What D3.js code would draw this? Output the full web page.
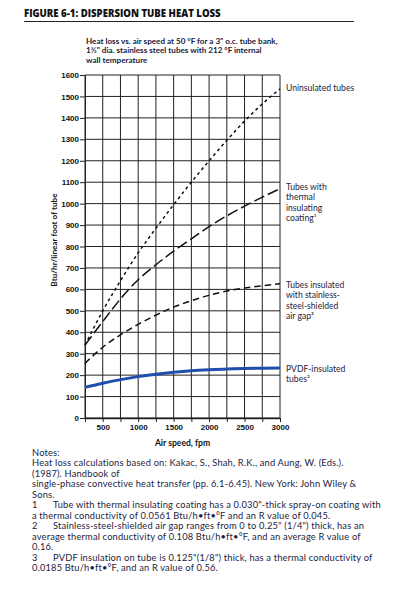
<!DOCTYPE html>
<html>
<head>
<meta charset="utf-8">
<script src="https://cdn.jsdelivr.net/npm/d3@7"></script>
<style>
  body { margin: 0; background: #fff; }
  svg { display: block; font-family: Lato, "Open Sans", sans-serif; }
  .grid line { stroke: #222; stroke-width: 1; }
  .axis path, .axis line { stroke: #222; }
  .axis text { font-size: 8px; fill: #111; }
</style>
</head>
<body>
<script>
// air speed (fpm) sample points
var speeds = [250, 500, 750, 1000, 1250, 1500, 1750, 2000, 2250, 2500, 2750, 3000]
// heat loss, Btu/hr/linear foot of tube
var uninsulated = [340, 500, 640, 770, 885, 995, 1100, 1200, 1295, 1385, 1465, 1535]
var coating = [340, 450, 555, 645, 715, 778, 836, 893, 943, 988, 1030, 1070]
var airGap = [255, 330, 388, 437, 480, 517, 547, 572, 592, 606, 617, 626]
var pvdf = [143, 162, 179, 193, 204, 213, 220, 225, 229, 231, 232, 233]

var xTicks = [500, 1000, 1500, 2000, 2500, 3000]
var seriesLabels = [
	['Uninsulated tubes'],
	['Tubes with', 'thermal', 'insulating', 'coating\u00b9'],
	['Tubes insulated', 'with stainless-', 'steel-shielded', 'air gap\u00b2'],
	['PVDF-insulated', 'tubes\u00b3']
]

var titleText = 'FIGURE 6-1: DISPERSION TUBE HEAT LOSS'
var subtitle = [
	'Heat loss vs. air speed at 50 \u00b0F for a 3" o.c. tube bank,',
	'1\u00bd" dia. stainless steel tubes with 212 \u00b0F internal',
	'wall temperature'
]
var notes = [
	['', 'Notes:'],
	['', 'Heat loss calculations based on: Kakac, S., Shah, R.K., and Aung, W. (Eds.).'],
	['', '(1987). Handbook of'],
	['', 'single-phase convective heat transfer (pp. 6.1-6.45). New York: John Wiley &'],
	['', 'Sons.'],
	['1', 'Tube with thermal insulating coating has a 0.030"-thick spray-on coating with'],
	['', 'a thermal conductivity of 0.0561  Btu/h\u2022ft\u2022\u00b0F and an R value of 0.045.'],
	['2', 'Stainless-steel-shielded air gap ranges from 0 to 0.25" (1/4") thick, has an'],
	['', 'average thermal conductivity of 0.108 Btu/h\u2022ft\u2022\u00b0F, and an average R value of'],
	['', '0.16.'],
	['3', 'PVDF insulation on tube is 0.125"(1/8") thick, has a thermal conductivity of'],
	['', '0.0185 Btu/h\u2022ft\u2022\u00b0F, and an R value of 0.56.']
]

var width = 400, height = 590
var margin = {left: 85, top: 75, right: 120, bottom: 172}
var plotW = width - margin.left - margin.right
var plotH = height - margin.top - margin.bottom

var svg = d3.select('body').append('svg').attr('width', width).attr('height', height)

// title + rule
svg.append('text').attr('x', 24).attr('y', 17)
	.attr('font-family', '"Open Sans", sans-serif').attr('font-weight', 800)
	.attr('font-size', 9.6).attr('fill', '#111').text(titleText)
svg.append('line').attr('x1', 24).attr('x2', 354).attr('y1', 21.5).attr('y2', 21.5)
	.attr('stroke', '#222').attr('stroke-width', 1.2)

svg.append('g').selectAll('text').data(subtitle).enter().append('text')
	.attr('x', 86).attr('y', (d, i) => 44 + i * 9.4)
	.attr('font-weight', 700).attr('font-size', 8.1).attr('fill', '#1a1a3a')
	.text(d => d)

var x = d3.scaleLinear().domain([250, 3000]).range([0, plotW])
var y = d3.scaleLinear().domain([0, 1600]).range([plotH, 0])

var g = svg.append('g').attr('transform', 'translate(' + margin.left + ',' + margin.top + ')')

// grid
var grid = g.append('g').attr('class', 'grid')
grid.selectAll('.h').data(d3.range(0, 1601, 100)).enter().append('line')
	.attr('x1', 0).attr('x2', plotW).attr('y1', d => y(d)).attr('y2', d => y(d))
grid.selectAll('.v').data(d3.range(250, 3001, 250)).enter().append('line')
	.attr('y1', 0).attr('y2', plotH).attr('x1', d => x(d)).attr('x2', d => x(d))

var yAxis = d3.axisLeft(y).tickValues(d3.range(0, 1601, 100)).tickSize(5).tickPadding(1)
	.tickSizeOuter(0).tickFormat(d3.format('d'))
g.append('g').attr('class', 'axis').call(yAxis)
	.selectAll('text').attr('font-weight', 700)

var xAxis = d3.axisBottom(x).tickValues(d3.range(250, 3001, 250)).tickSize(4).tickPadding(2).tickSizeOuter(0)
	.tickFormat(d => xTicks.indexOf(d) >= 0 ? d : '')
var xg = g.append('g').attr('class', 'axis').attr('transform', 'translate(0,' + plotH + ')').call(xAxis)
xg.select('.domain').attr('stroke-width', 1.6)
xg.selectAll('text').attr('font-weight', 700)

svg.append('text').attr('x', margin.left + plotW / 2).attr('y', 446)
	.attr('text-anchor', 'middle').attr('font-weight', 700).attr('font-size', 8.6)
	.attr('fill', '#111').text('Air speed, fpm')
svg.append('text').attr('transform', 'translate(57,240) rotate(-90)')
	.attr('text-anchor', 'middle').attr('font-weight', 700).attr('font-size', 8.2)
	.attr('fill', '#111').text('Btu/hr/linear foot of tube')

// curves
var line = d3.line()
	.x((d, i) => x(speeds[i]))
	.y(d => y(d))
	.curve(d3.curveMonotoneX)

var series = [
	{values: uninsulated, dash: '3,3.2', color: '#111', w: 1.5},
	{values: coating, dash: '11,4', color: '#111', w: 1.5},
	{values: airGap, dash: '6.5,4', color: '#111', w: 1.5},
	{values: pvdf, dash: null, color: '#1f4fae', w: 3}
]
g.selectAll('.curve').data(series).enter().append('path')
	.attr('class', 'curve')
	.attr('d', d => line(d.values))
	.attr('fill', 'none')
	.attr('stroke', d => d.color)
	.attr('stroke-width', d => d.w)
	.attr('stroke-dasharray', d => d.dash)

// right-side labels
var labelTops = [91, 190, 288, 372]
var lab = svg.append('g').attr('font-size', 8.6).attr('fill', '#1c1c40')
seriesLabels.forEach((lines, k) => {
	lab.append('text').attr('x', 286).attr('y', labelTops[k])
		.selectAll('tspan').data(lines).enter().append('tspan')
		.attr('x', 286).attr('dy', (d, i) => i ? 10.3 : 0).text(d => d)
})

// notes (number + text on one line element)
var ng = svg.append('g').attr('font-size', 9.3).attr('letter-spacing', 0.18).attr('fill', '#1c1c40')
notes.forEach((n, i) => {
	var t = ng.append('text').attr('y', 456 + i * 10.45)
	if (n[0]) t.append('tspan').attr('x', 32).text(n[0])
	t.append('tspan').attr('x', n[0] ? 53 : 32).text(n[1])
})
</script>
</body>
</html>
